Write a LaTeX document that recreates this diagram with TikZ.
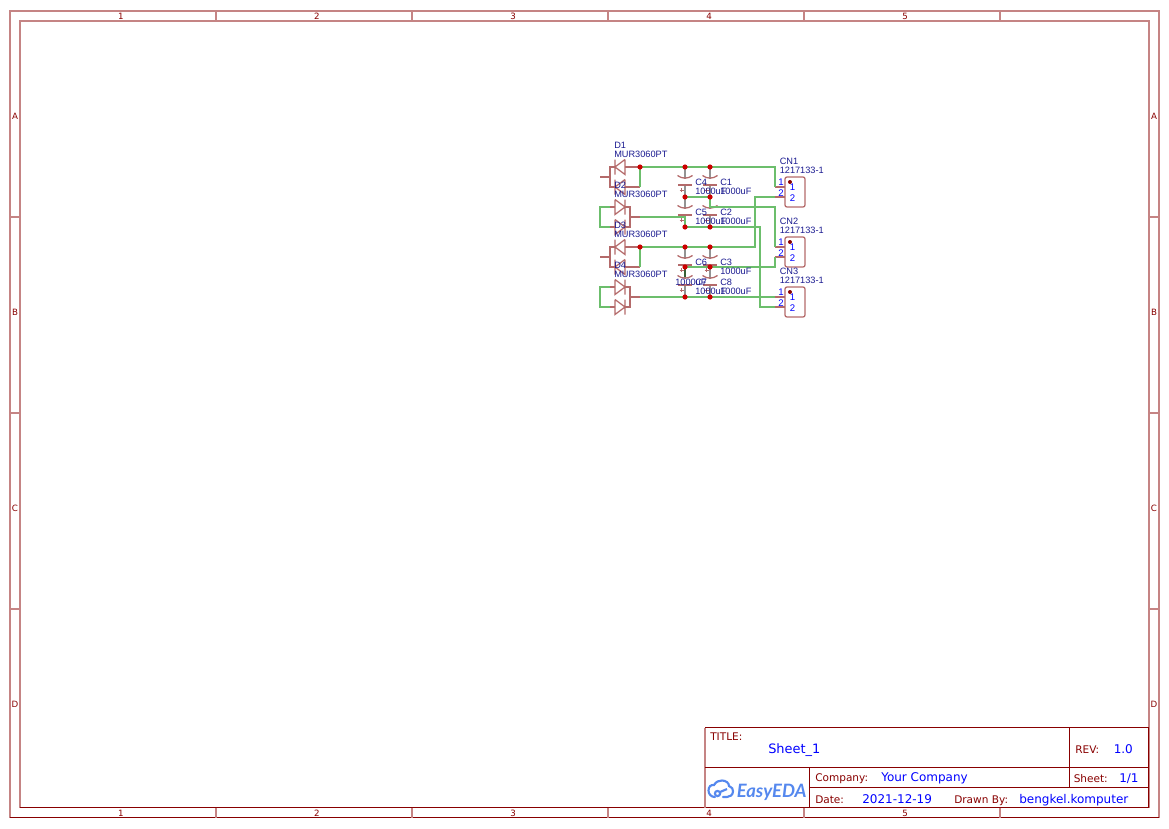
\documentclass[tikz,border=0pt]{standalone}
\usepackage{fontspec}
\setmainfont{DejaVu Sans}
\newfontfamily\logofont{Lato}
\newfontfamily\partfont{Liberation Sans}
\usetikzlibrary{positioning}
\pgfdeclarelayer{dots}
\pgfsetlayers{main,dots}
\definecolor{sheetred}{HTML}{880000}
\definecolor{softred}{HTML}{C58484}
\definecolor{symred}{HTML}{B46A6A}
\definecolor{netgreen}{HTML}{6CBE6C}
\definecolor{labelnavy}{HTML}{1A1A90}
\definecolor{pinblue}{HTML}{0000FF}
\definecolor{logoblue}{HTML}{5588EE}
\tikzset{x=0.75pt, y=-0.75pt, % One unit is one pixel of the sheet
      every node/.style={inner sep=0pt},
      frameline/.style={draw=sheetred, line width=0.75pt},
      softline/.style={draw=softred, line width=1.05pt},
      wire/.style={draw=netgreen, line width=1pt},
      pinline/.style={draw=symred, line width=0.95pt},
      capline/.style={draw=gray!85, line width=1.1pt},
      junction/.style={circle, fill=red!80!black, minimum size=3.9pt},
      partlabel/.style={anchor=base west, text=labelnavy, font=\partfont\fontsize{6.9}{7}\selectfont},
      pinlabel/.style={anchor=base west, text=pinblue, font=\partfont\fontsize{7.2}{8}\selectfont},
      edgemark/.style={text=sheetred, font=\fontsize{6.5}{7}\selectfont},
      tagtext/.style={anchor=base west, text=sheetred, font=\fontsize{7.9}{9}\selectfont},
      valuetext/.style={anchor=base west, text=pinblue, font=\fontsize{9}{11}\selectfont},
      dualleft/.pic={ % Pair of diodes, bars to the left
            \draw[pinline] (-20,0) -- (-10,0) (-5,-10) -- (-10,-10) -- (-10,10) -- (-5,10);
            \draw[pinline] (-5,-17.5) -- (-5,-2.5) (5,-17.5) -- (5,-2.5) -- (-5,-10) -- (5,-17.5);
            \draw[pinline] (-5,2.5) -- (-5,17.5) (5,2.5) -- (5,17.5) -- (-5,10) -- (5,2.5);
            \draw[pinline] (5,-10) -- (20,-10) (5,10) -- (20,10);
            \coordinate (-a) at (20,-10);
            \coordinate (-b) at (20,10);},
      dualright/.pic={ % Pair of diodes, bars to the right
            \draw[pinline] (20,0) -- (10,0) (5,-10) -- (10,-10) -- (10,10) -- (5,10);
            \draw[pinline] (5,-17.5) -- (5,-2.5) (-5,-17.5) -- (-5,-2.5) -- (5,-10) -- (-5,-17.5);
            \draw[pinline] (5,2.5) -- (5,17.5) (-5,2.5) -- (-5,17.5) -- (5,10) -- (-5,2.5);
            \draw[pinline] (-5,-10) -- (-10,-10) (-5,10) -- (-10,10);
            \coordinate (-a) at (-10,-10);
            \coordinate (-b) at (-10,10);
            \coordinate (-k) at (20,0);},
      polarcap/.pic={ % Polarised capacitor, 30 units tall
            \draw[capline] (0,-15) -- (0,-3.5) (0,3) -- (0,15);
            \draw[pinline] (-7.5,-6.5) .. controls (-3,-3) and (3,-3) .. (7.5,-6.5);
            \draw[pinline] (-7,3) -- (7,3);
            \draw[symred, line width=0.75pt] (-5.5,8) -- (-1.5,8) (-3.5,6) -- (-3.5,10);},
      header/.pic={ % Two pin connector
            \draw[pinline, rounded corners=1.5pt] (-10,-15) rectangle (10,15);
            \draw[pinline] (-20,-5) -- (-10,-5) (-20,5) -- (-10,5);
            \fill[sheetred] (-5,-10) circle (2);
            \coordinate (-p1) at (-20,-5);
            \coordinate (-p2) at (-20,5);
            \node[pinlabel] (-o1) at (-17,-7) {1};
            \node[pinlabel] (-o2) at (-17,4) {2};
            \node[pinlabel] (-i1) at (-5.5,-2) {1};
            \node[pinlabel] (-i2) at (-5.5,9) {2};}}

\begin{document}
\begin{tikzpicture}
      \useasboundingbox (0,0) rectangle (1169,828);
      % Sheet frame
      \draw[softline] (10,817.5) -- (10,11) -- (1159,11) -- (1159,817.5);
      \draw[softline] (20,807.5) -- (20,21) -- (1149,21) -- (1149,807.5);
      \draw[frameline] (10,817.5) -- (1159,817.5) (20,807.5) -- (1149,807.5);
      \foreach \tx in {216,412,608,804,1000} {
            \draw[softline] (\tx,11) -- (\tx,21) (\tx,807.5) -- (\tx,817.5);
      }
      \foreach \ty in {217,413,609} {
            \draw[softline] (10,\ty) -- (20,\ty) (1149,\ty) -- (1159,\ty);
      }
      \foreach \tx/\tn in {121/1,317/2,513/3,709/4,905/5} {
            \node[edgemark] (top\tn) at (\tx,16) {\tn};
            \node[edgemark] (bot\tn) at (\tx,813) {\tn};
      }
      \foreach \ty/\tn in {116/A,312/B,508/C,704/D} {
            \node[edgemark] (lft\tn) at (15,\ty) {\tn};
            \node[edgemark] (rgt\tn) at (1154,\ty) {\tn};
      }

      % Title block
      \draw[softline] (705,807.5) -- (705,727.5);
      \draw[frameline] (705,727.5) -- (1148.5,727.5) -- (1148.5,807.5);
      \draw[frameline] (705,767.5) -- (1148.5,767.5) (809.5,787.5) -- (1148.5,787.5);
      \draw[frameline] (809.5,767.5) -- (809.5,807.5) (1069.5,727.5) -- (1069.5,787.5);
      \node[tagtext] (ttitle) at (710,740) {TITLE:};
      \node[valuetext, font=\fontsize{9.7}{11}\selectfont] (vtitle) at (768,753) {Sheet\_1};
      \node[tagtext] (trev) at (1075,753.5) {REV:};
      \node[valuetext] (vrev) at (1113.5,753.5) {1.0};
      \node[tagtext] (tcomp) at (815,781) {Company:};
      \node[valuetext] (vcomp) at (881,781) {Your Company};
      \node[tagtext] (tsheet) at (1073.5,782) {Sheet:};
      \node[valuetext] (vsheet) at (1119,782) {1/1};
      \node[tagtext] (tdate) at (815,803) {Date:};
      \node[valuetext] (vdate) at (862,803) {2021-12-19};
      \node[tagtext] (tdrawn) at (954,803) {Drawn By:};
      \node[valuetext] (vdrawn) at (1019,803) {bengkel.komputer};

      % Logo
      \draw[logoblue, line width=1.6pt, line cap=round] (715,797) .. controls (711,797) and (708.5,794) .. (708.5,790.5)
            .. controls (708.5,786.5) and (711,784.5) .. (714,785) .. controls (716,781.5) and (719,780.5) .. (722,780.5)
            .. controls (726,780.5) and (729,783) .. (729,786) .. controls (732,787) and (733,789) .. (733,791)
            .. controls (733,795) and (730,797) .. (727,797) -- (723,797);
      \draw[logoblue, line width=1.6pt] (717.5,793.5) circle (2.6) (720,792) -- (727,789);
      \node[anchor=base west, text=logoblue, font=\logofont\bfseries\itshape\fontsize{13.8}{15}\selectfont] (logotext) at (736.5,797) {EasyEDA};

      % Rectifier pairs
      \pic (d1) at (620,177) {dualleft};
      \pic (d2) at (620,217) {dualright};
      \pic (d3) at (620,257) {dualleft};
      \pic (d4) at (620,297) {dualright};

      % Capacitors
      \pic (c4) at (685,182) {polarcap};
      \pic (c1) at (710,182) {polarcap};
      \pic (c5) at (685,212) {polarcap};
      \pic (c2) at (710,212) {polarcap};
      \pic (c6) at (685,262) {polarcap};
      \pic (c3) at (710,262) {polarcap};
      \pic (c7) at (685,282) {polarcap};
      \pic (c8) at (710,282) {polarcap};

      % Connectors
      \pic (cn1) at (795,192) {header};
      \pic (cn2) at (795,252) {header};
      \pic (cn3) at (795,302) {header};

      % Nets
      \coordinate (loop2) at (600,217);
      \coordinate (loop4) at (600,297);
      \coordinate (stub2) at (610,207);
      \coordinate (stub2b) at (610,227);
      \coordinate (stub4) at (610,287);
      \coordinate (stub4b) at (610,307);
      \coordinate (c6low) at (685,277);
      \coordinate (c2drop) at (710,207);
      \coordinate (bend5) at (760,260);
      \coordinate (bend6) at (755,220);
      \begin{pgfonlayer}{dots}
      \node[junction] (jd1) at (640,167) {};
      \node[junction] (jd3) at (640,247) {};
      \node[junction] (jc4t) at (685,167) {};
      \node[junction] (jc1t) at (710,167) {};
      \node[junction] (jc4b) at (685,197) {};
      \node[junction] (jc1b) at (710,197) {};
      \node[junction] (jc5b) at (685,227) {};
      \node[junction] (jc2b) at (710,227) {};
      \node[junction] (jc6t) at (685,247) {};
      \node[junction] (jc3t) at (710,247) {};
      \node[junction] (jc7t) at (685,267) {};
      \node[junction] (jc8t) at (710,267) {};
      \node[junction] (jc7b) at (685,297) {};
      \node[junction] (jc8b) at (710,297) {};
      \end{pgfonlayer}
      \draw[wire] (jd1.center) -- (jc4t.center) -- (jc1t.center) -| (cn1-p1);
      \draw[wire] (jd1.center) -- (d1-b);
      \draw[wire] (jc4b.center) -- (jc1b.center) -- (c2drop) -| (cn2-p1);
      \draw[wire] (stub2) -| (loop2) |- (stub2b);
      \draw[wire] (d2-k) -| (jc5b.center);
      \draw[wire] (jc5b.center) -- (jc2b.center) -| (bend5) |- (cn3-p2);
      \draw[wire] (jd3.center) -- (jc6t.center) -- (jc3t.center) -| (bend6) |- (cn1-p2);
      \draw[wire] (jd3.center) -- (d3-b);
      \draw[wire] (jc7t.center) -- (jc8t.center) -| (cn2-p2);
      \draw[wire, draw=netgreen!50!black] (jc7t.center) -- (c6low);
      \draw[wire] (stub4) -| (loop4) |- (stub4b);
      \draw[wire] (d4-k) -- (jc7b.center) -- (jc8b.center) -- (cn3-p1);

      % Labels
      \node[partlabel] (d1name) at (614,148) {D1};
      \node[partlabel] (d1val) at (614,157) {MUR3060PT};
      \node[partlabel] (d2name) at (614,188) {D2};
      \node[partlabel] (d2val) at (614,197) {MUR3060PT};
      \node[partlabel] (d3name) at (614,228) {D3};
      \node[partlabel] (d3val) at (614,237) {MUR3060PT};
      \node[partlabel] (d4name) at (614,268) {D4};
      \node[partlabel] (d4val) at (614,277) {MUR3060PT};
      \node[partlabel] (c4name) at (695,185) {C4};
      \node[partlabel] (c4val) at (695,194) {1000uF};
      \node[partlabel] (c1name) at (720,185) {C1};
      \node[partlabel] (c1val) at (720,194) {1000uF};
      \node[partlabel] (c5name) at (695,215) {C5};
      \node[partlabel] (c5val) at (695,224) {1000uF};
      \node[partlabel] (c2name) at (720,215) {C2};
      \node[partlabel] (c2val) at (720,224) {1000uF};
      \node[partlabel] (c6name) at (695,265) {C6};
      \node[partlabel] (c6val) at (675,285) {1000uF};
      \node[partlabel] (c3name) at (720,265) {C3};
      \node[partlabel] (c3val) at (720,274) {1000uF};
      \node[partlabel] (c7name) at (695,285) {C7};
      \node[partlabel] (c7val) at (695,294) {1000uF};
      \node[partlabel] (c8name) at (720,285) {C8};
      \node[partlabel] (c8val) at (720,294) {1000uF};
      \node[partlabel] (cn1name) at (779.5,164) {CN1};
      \node[partlabel] (cn1val) at (779.5,173) {1217133-1};
      \node[partlabel] (cn2name) at (779.5,224) {CN2};
      \node[partlabel] (cn2val) at (779.5,233) {1217133-1};
      \node[partlabel] (cn3name) at (779.5,274) {CN3};
      \node[partlabel] (cn3val) at (779.5,283) {1217133-1};
\end{tikzpicture}
\end{document}
